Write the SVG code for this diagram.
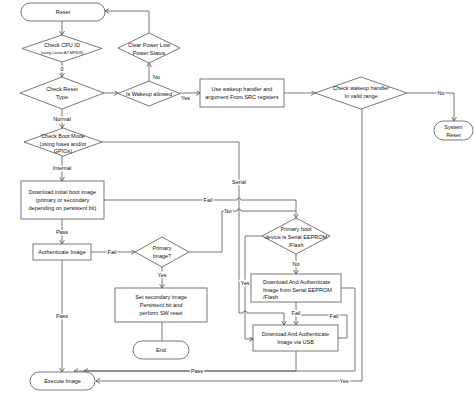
<svg xmlns="http://www.w3.org/2000/svg" width="474" height="404" viewBox="0 0 474 404">
<style>
.s{fill:#fff;stroke:#555;stroke-width:0.8}
.c{fill:none;stroke:#555;stroke-width:0.8}
.a{marker-end:url(#ar)}
text{font-family:"Liberation Sans",Arial,sans-serif;font-size:5.5px;fill:#111;text-anchor:middle}
.sm{font-size:3.8px}
.l{paint-order:stroke;stroke:#fff;stroke-width:2.5px}
.st{text-anchor:start}
</style>
<defs>
<marker id="ar" markerWidth="6" markerHeight="6" refX="4.5" refY="2.5" orient="auto" markerUnits="userSpaceOnUse">
<path d="M0.5,0 L4.5,2.5 L0.5,5" fill="none" stroke="#555" stroke-width="0.8"/>
</marker>
</defs>
<rect width="474" height="404" fill="#fff"/>
<g id="connectors">
<path class="c a" d="M62,21 V35"/>
<path class="c a" d="M62,62 V77"/>
<path class="c a" d="M104,93 H118"/>
<path class="c a" d="M149,81 V63"/>
<path class="c a" d="M149,33 V11 H105"/>
<path class="c a" d="M180,93 H200"/>
<path class="c a" d="M284,93 H315"/>
<path class="c a" d="M407,93 H454 V121"/>
<path class="c a" d="M362,109 V381 H96"/>
<path class="c a" d="M62,109 V128"/>
<path class="c" d="M102,142 H239 V313 H243 a2,2 0 0 1 4,0 H284"/>
<path class="c a" d="M284,313 V325"/>
<path class="c a" d="M62,156 V181"/>
<path class="c" d="M104,200 H237 a2,2 0 0 1 4,0 H296"/>
<path class="c a" d="M296,200 V218"/>
<path class="c a" d="M62,219 V244"/>
<path class="c a" d="M91,252 H135"/>
<path class="c" d="M189,252 H222 V211 H237 a2,2 0 0 1 4,0 H296"/>
<path class="c a" d="M162,267 V288"/>
<path class="c" d="M162,322 V341"/>
<path class="c a" d="M62,260 V372"/>
<path class="c a" d="M296,254 V274"/>
<path class="c a" d="M262,236 H245 V339 H253"/>
<path class="c a" d="M296,302 V325"/>
<path class="c" d="M338,338 H347 V315 H298"/>
<path class="c a" d="M296,351 V371 H84"/>
<path class="c a" d="M341,288 H355 V371 H74"/>
<text class="l" x="62" y="70.5">0</text>
<text class="l st" x="153" y="79">No</text>
<text class="l st" x="181" y="100">Yes</text>
<text class="l" x="441" y="95">No</text>
<text class="l" x="344" y="383">Yes</text>
<text class="l" x="62" y="120.5">Normal</text>
<text class="l" x="239" y="184">Serial</text>
<text class="l" x="62" y="170">Internal</text>
<text class="l" x="208" y="202">Fail</text>
<text class="l" x="62" y="234">Pass</text>
<text class="l" x="112" y="254">Fail</text>
<text class="l" x="228" y="213">No</text>
<text class="l" x="162" y="276.5">Yes</text>
<text class="l" x="62" y="318">Pass</text>
<text class="l" x="296" y="265.5">No</text>
<text class="l" x="245" y="285">Yes</text>
<text class="l" x="296" y="314.5">Fail</text>
<text class="l" x="334" y="317.5">Fail</text>
<text class="l" x="197" y="373">Pass</text>
</g>
<g id="reset"><rect class="s" x="21" y="3" width="84" height="18" rx="9"/><text x="63" y="14">Reset</text></g>
<g id="cpuid"><polygon class="s" points="62,35 102,48.5 62,62 22,48.5"/><text x="62" y="47">Check CPU ID</text><text class="sm" x="62" y="53.5">(using Cortex A7 MPIDR)</text></g>
<g id="resettype"><polygon class="s" points="62,77 104,93 62,109 20,93"/><text x="62" y="91">Check Reset</text><text x="62" y="99">Type</text></g>
<g id="wakeup"><polygon class="s" points="149,81 180,93.5 149,106 118,93.5"/><text x="149" y="95.5">Is Wakeup allowed</text></g>
<g id="clearpower"><polygon class="s" points="149,33 180,48 149,63 118,48"/><text x="149" y="47">Clear Power Low</text><text x="149" y="55">Power Status</text></g>
<g id="usehandler"><rect class="s" x="200" y="79" width="84" height="28"/><text x="242" y="91">Use wakeup handler and</text><text x="242" y="99">argument From SRC registers</text></g>
<g id="checkhandler"><polygon class="s" points="361,77 407,93 361,109 315,93"/><text x="361" y="90">Check wakeup handler</text><text x="361" y="98">In valid range</text></g>
<g id="sysreset"><rect class="s" x="434" y="121" width="39" height="19" rx="9.5"/><text x="453.5" y="129">System</text><text x="453.5" y="136.5">Reset</text></g>
<g id="bootmode"><polygon class="s" points="63,128 102,142 63,156 24,142"/><text x="63" y="138">Check Boot Mode</text><text x="63" y="145.5">(using fuses and/or</text><text x="63" y="153">GPIOs)</text></g>
<g id="download"><rect class="s" x="21" y="181" width="83" height="38"/><text x="62.5" y="194">Download initial boot image</text><text x="62.5" y="202">(primary or secondary</text><text x="62.5" y="210">depending on persistent bit)</text></g>
<g id="authenticate"><rect class="s" x="33" y="244" width="58" height="16"/><text x="62" y="254">Authenticate Image</text></g>
<g id="primaryimage"><polygon class="s" points="162,237 189,252 162,267 135,252"/><text x="162" y="250">Primary</text><text x="162" y="258">Image?</text></g>
<g id="setsecondary"><rect class="s" x="115" y="288" width="92" height="34"/><text x="161" y="299">Set secondary image</text><text x="161" y="307">Persistent bit and</text><text x="161" y="315">perform SW reset</text></g>
<g id="end"><rect class="s" x="133" y="341" width="56" height="18" rx="9"/><text x="161" y="352">End</text></g>
<g id="primaryboot"><polygon class="s" points="296,218 330,236 296,254 262,236"/><text x="296" y="231">Primary boot</text><text x="296" y="239">device is Serial EEPROM</text><text x="296" y="247">/Flash</text></g>
<g id="eeprom"><rect class="s" x="251" y="274" width="90" height="28"/><text class="st" x="263" y="284">Download And Authenticate</text><text class="st" x="263" y="291.5">Image from Serial EEPROM</text><text class="st" x="263" y="299">/Flash</text></g>
<g id="usb"><rect class="s" x="253" y="325" width="85" height="26"/><text x="295.5" y="336">Download And Authenticate</text><text x="295.5" y="344">Image via USB</text></g>
<g id="execute"><rect class="s" x="30" y="372" width="65" height="18" rx="9"/><text x="62.5" y="383">Execute Image</text></g>
</svg>
